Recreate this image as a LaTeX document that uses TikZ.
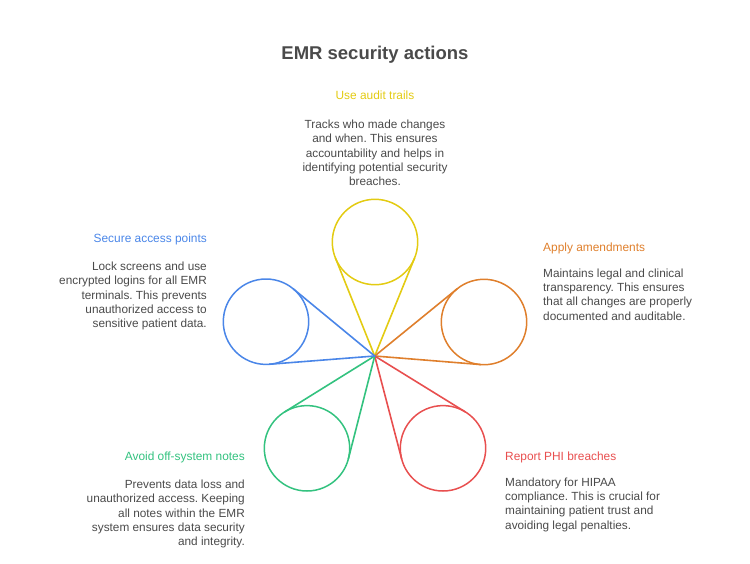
\documentclass[tikz,border=0pt]{standalone}
\usepackage{fontspec}
\setmainfont{Liberation Sans}
\usetikzlibrary{calc}
\definecolor{cyellow}{HTML}{E3CB12}
\definecolor{cblue}{HTML}{4A86E8}
\definecolor{corange}{HTML}{DF7F2C}
\definecolor{cgreen}{HTML}{33C27F}
\definecolor{cred}{HTML}{E84F4F}
\definecolor{ctext}{HTML}{4A4A4A}
\tikzset{
  petal/.style={circle,draw=#1,line width=1.5pt,minimum size=85.4pt,inner sep=0pt,outer sep=0pt},
  conn/.style={draw=#1,line width=1.6pt,line cap=round},
  titlenode/.style={font=\fontsize{18.5}{22}\selectfont\bfseries,text=ctext,inner sep=0pt},
  head/.style={font=\fontsize{11.9}{14.3}\selectfont,text=#1,inner sep=0pt},
  body/.style={font=\fontsize{11.8}{14.3}\selectfont,text=ctext,inner sep=0pt},
}
\begin{document}
\frenchspacing
\begin{tikzpicture}[x=1pt,y=-1pt]
\useasboundingbox (0,0) rectangle (750,563);
\coordinate (hub) at (374.7,356);
\node[petal=cyellow] (cy) at (375,242) {};
\node[petal=cblue] (cb) at (266,321.7) {};
\node[petal=corange] (co) at (484,322) {};
\node[petal=cgreen] (cg) at (307,448.3) {};
\node[petal=cred] (cr) at (443,448.3) {};
\foreach \c/\k in {cy/cyellow,co/corange,cr/cred,cg/cgreen,cb/cblue}{
  \draw[conn=\k] (hub) -- (tangent cs:node=\c,point={(hub)},solution=1);
  \draw[conn=\k] (hub) -- (tangent cs:node=\c,point={(hub)},solution=2);
}
\node[titlenode] (title) at (375,54.5) {EMR security actions};
\node[head=cyellow] (ly) at (375,95.5) {Use audit trails};
\node[body,align=center,anchor=north] (ty) at (375,119.7) {Tracks who made changes\\and when. This ensures\\accountability and helps in\\identifying potential security\\breaches.};
\node[head=cblue,anchor=east] (lb) at (207,239.3) {Secure access points};
\node[body,align=right,anchor=north east] (tb) at (207,261.8) {Lock screens and use\\encrypted logins for all EMR\\terminals. This prevents\\unauthorized access to\\sensitive patient data.};
\node[head=corange,anchor=west] (lo) at (543,248.3) {Apply amendments};
\node[body,align=left,anchor=north west] (to) at (543,268.5) {Maintains legal and clinical\\transparency. This ensures\\that all changes are properly\\documented and auditable.};
\node[head=cgreen,anchor=east] (lg) at (245,457.3) {Avoid off-system notes};
\node[body,align=right,anchor=north east] (tg) at (245,479.8) {Prevents data loss and\\unauthorized access. Keeping\\all notes within the EMR\\system ensures data security\\and integrity.};
\node[head=cred,anchor=west] (lr) at (505,457.3) {Report PHI breaches};
\node[body,align=left,anchor=north west] (tr) at (505,477.5) {Mandatory for HIPAA\\compliance. This is crucial for\\maintaining patient trust and\\avoiding legal penalties.};
\end{tikzpicture}
\end{document}
